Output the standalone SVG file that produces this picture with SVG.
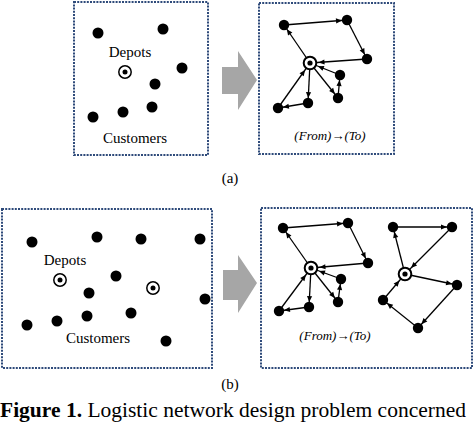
<svg xmlns="http://www.w3.org/2000/svg" width="474" height="425" viewBox="0 0 474 425">
<style>
.box{fill:none;stroke:#2e4a7a;stroke-width:2;stroke-dasharray:2 1.2}
.arrowbig{fill:#a6a6a6}
.c{fill:#000}
.dr{fill:#fff;stroke:#000;stroke-width:1.5}
.dr2{fill:#fff;stroke:#000;stroke-width:2}
.e{stroke:#000;stroke-width:1.3;fill:none}
.lbl{font-size:15px;fill:#000;text-anchor:middle}
.ft{font-size:13px;font-style:italic;fill:#000;text-anchor:middle}
.cap{font-size:21.5px;fill:#000}
</style>
<defs>
<marker id="ac" markerWidth="20" markerHeight="10" refX="11" refY="5" orient="auto" markerUnits="userSpaceOnUse" overflow="visible"><path d="M0,2.4 L6,5 L0,7.6 z" fill="#000"/></marker>
<marker id="ad" markerWidth="20" markerHeight="10" refX="14.5" refY="5" orient="auto" markerUnits="userSpaceOnUse" overflow="visible"><path d="M0,2.4 L6,5 L0,7.6 z" fill="#000"/></marker>
</defs>

<g id="panel-a-left">
<rect class="box" x="74" y="2" width="134" height="153"/>
<circle class="c" cx="98" cy="33" r="5.5"/>
<circle class="c" cx="163" cy="29" r="5.5"/>
<circle class="c" cx="182" cy="68" r="5.5"/>
<circle class="c" cx="155" cy="84" r="5.5"/>
<circle class="c" cx="152" cy="107" r="5.5"/>
<circle class="c" cx="123" cy="112" r="5.5"/>
<circle class="c" cx="93" cy="117" r="5.5"/>
<circle class="dr" cx="125" cy="72" r="6.2"/><circle class="c" cx="125" cy="72" r="2.5"/>
<text class="lbl" font-family="'Liberation Serif', 'DejaVu Serif', serif" x="130" y="57">Depots</text>
<text class="lbl" font-family="'Liberation Serif', 'DejaVu Serif', serif" x="135" y="143">Customers</text>
</g>

<g id="arrow-a"><path class="arrowbig" d="M222,67 L238,67 L238,51 L257,80 L238,110 L238,94 L222,94 z"/></g>

<g id="connectors">
<line class="e" x1="284" y1="25" x2="347" y2="20" marker-end="url(#ac)"/>
<line class="e" x1="347" y1="20" x2="367" y2="59" marker-end="url(#ac)"/>
<line class="e" x1="367" y1="59" x2="310" y2="63" marker-end="url(#ad)"/>
<line class="e" x1="310" y1="63" x2="284" y2="25" marker-end="url(#ac)"/>
<line class="e" x1="310" y1="63" x2="308" y2="103" marker-end="url(#ac)"/>
<line class="e" x1="308" y1="103" x2="278" y2="108" marker-end="url(#ac)"/>
<line class="e" x1="278" y1="108" x2="310" y2="63" marker-end="url(#ad)"/>
<line class="e" x1="310" y1="63" x2="338" y2="98" marker-end="url(#ac)"/>
<line class="e" x1="338" y1="98" x2="340" y2="75" marker-end="url(#ac)"/>
<line class="e" x1="340" y1="75" x2="310" y2="63" marker-end="url(#ad)"/>

<line class="e" x1="283" y1="228" x2="348" y2="223" marker-end="url(#ac)"/>
<line class="e" x1="348" y1="223" x2="368" y2="263" marker-end="url(#ac)"/>
<line class="e" x1="368" y1="263" x2="311" y2="268" marker-end="url(#ad)"/>
<line class="e" x1="311" y1="268" x2="283" y2="228" marker-end="url(#ac)"/>
<line class="e" x1="311" y1="268" x2="309" y2="307" marker-end="url(#ac)"/>
<line class="e" x1="309" y1="307" x2="279" y2="311" marker-end="url(#ac)"/>
<line class="e" x1="279" y1="311" x2="311" y2="268" marker-end="url(#ad)"/>
<line class="e" x1="311" y1="268" x2="338" y2="302" marker-end="url(#ac)"/>
<line class="e" x1="338" y1="302" x2="341" y2="279" marker-end="url(#ac)"/>
<line class="e" x1="341" y1="279" x2="311" y2="268" marker-end="url(#ad)"/>

<line class="e" x1="393" y1="227" x2="452" y2="227" marker-end="url(#ac)"/>
<line class="e" x1="452" y1="227" x2="405" y2="274" marker-end="url(#ad)"/>
<line class="e" x1="405" y1="274" x2="393" y2="227" marker-end="url(#ac)"/>
<line class="e" x1="405" y1="274" x2="457" y2="285" marker-end="url(#ac)"/>
<line class="e" x1="457" y1="285" x2="418" y2="328" marker-end="url(#ac)"/>
<line class="e" x1="418" y1="328" x2="383" y2="300" marker-end="url(#ac)"/>
<line class="e" x1="383" y1="300" x2="405" y2="274" marker-end="url(#ad)"/>
</g>

<g id="panel-a-right">
<rect class="box" x="259" y="3" width="135" height="151"/>
<circle class="c" cx="284" cy="25" r="5.2"/>
<circle class="c" cx="347" cy="20" r="5.2"/>
<circle class="c" cx="367" cy="59" r="5.2"/>
<circle class="c" cx="340" cy="75" r="5.2"/>
<circle class="c" cx="338" cy="98" r="5.2"/>
<circle class="c" cx="308" cy="103" r="5.2"/>
<circle class="c" cx="278" cy="108" r="5.2"/>
<circle class="dr2" cx="310" cy="63" r="6.3"/><circle class="c" cx="310" cy="63" r="2.6"/>
<text class="ft" font-family="'Liberation Serif', 'DejaVu Serif', serif" x="330" y="140">(From)→(To)</text>
</g>

<text class="lbl" font-family="'Liberation Serif', 'DejaVu Serif', serif" x="230" y="183">(a)</text>

<g id="panel-b-left">
<rect class="box" x="2" y="209" width="210" height="159"/>
<circle class="c" cx="32" cy="242" r="5.5"/>
<circle class="c" cx="97" cy="237" r="5.5"/>
<circle class="c" cx="141" cy="239" r="5.5"/>
<circle class="c" cx="200" cy="239" r="5.5"/>
<circle class="c" cx="116" cy="276" r="5.5"/>
<circle class="c" cx="89" cy="293" r="5.5"/>
<circle class="c" cx="205" cy="299" r="5.5"/>
<circle class="c" cx="27" cy="325" r="5.5"/>
<circle class="c" cx="57" cy="321" r="5.5"/>
<circle class="c" cx="87" cy="316" r="5.5"/>
<circle class="c" cx="131" cy="313" r="5.5"/>
<circle class="c" cx="166" cy="341" r="5.5"/>
<circle class="dr" cx="60" cy="280" r="6.2"/><circle class="c" cx="60" cy="280" r="2.5"/>
<circle class="dr" cx="153" cy="288" r="6.2"/><circle class="c" cx="153" cy="288" r="2.5"/>
<text class="lbl" font-family="'Liberation Serif', 'DejaVu Serif', serif" x="65" y="265">Depots</text>
<text class="lbl" font-family="'Liberation Serif', 'DejaVu Serif', serif" x="98" y="343">Customers</text>
</g>

<g id="arrow-b"><path class="arrowbig" d="M223,270 L238,270 L238,255 L257,283 L238,313 L238,300 L223,300 z"/></g>

<g id="panel-b-right">
<rect class="box" x="261" y="208" width="211" height="160"/>
<circle class="c" cx="283" cy="228" r="5.2"/>
<circle class="c" cx="348" cy="223" r="5.2"/>
<circle class="c" cx="368" cy="263" r="5.2"/>
<circle class="c" cx="341" cy="279" r="5.2"/>
<circle class="c" cx="338" cy="302" r="5.2"/>
<circle class="c" cx="309" cy="307" r="5.2"/>
<circle class="c" cx="279" cy="311" r="5.2"/>
<circle class="dr2" cx="311" cy="268" r="6.3"/><circle class="c" cx="311" cy="268" r="2.6"/>
<circle class="c" cx="393" cy="227" r="5.2"/>
<circle class="c" cx="452" cy="227" r="5.2"/>
<circle class="c" cx="457" cy="285" r="5.2"/>
<circle class="c" cx="418" cy="328" r="5.2"/>
<circle class="c" cx="383" cy="300" r="5.2"/>
<circle class="dr2" cx="405" cy="274" r="6.3"/><circle class="c" cx="405" cy="274" r="2.6"/>
<text class="ft" font-family="'Liberation Serif', 'DejaVu Serif', serif" x="335" y="340">(From)→(To)</text>
</g>

<text class="lbl" font-family="'Liberation Serif', 'DejaVu Serif', serif" x="230" y="389">(b)</text>
<text class="cap" font-family="'Liberation Serif', 'DejaVu Serif', serif" x="0" y="417"><tspan font-weight="bold">Figure 1.</tspan> Logistic network design problem concerned</text>
</svg>
